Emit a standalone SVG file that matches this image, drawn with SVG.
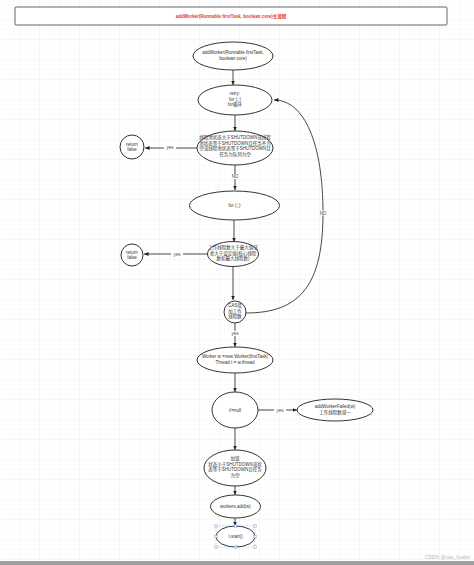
<svg xmlns="http://www.w3.org/2000/svg" width="474" height="565" viewBox="0 0 474 565">
<defs>
<pattern id="g1" width="5" height="5" patternUnits="userSpaceOnUse"><path d="M5 0V5M0 5H5" fill="none" stroke="#f2f2f2" stroke-width="0.5"/></pattern>
<pattern id="g2" width="20" height="20" patternUnits="userSpaceOnUse"><path d="M20 0V20M0 20H20" fill="none" stroke="#e6e6e6" stroke-width="0.5"/></pattern>
<marker id="ah" markerWidth="5" markerHeight="5" refX="4.5" refY="2.5" orient="auto" markerUnits="userSpaceOnUse"><path d="M0,0.5 L4.5,2.5 L0,4.5 Z" fill="#222"/></marker>
<style>
.n{fill:#fff;stroke:#333;stroke-width:1}
.t{font-family:"Liberation Sans","Noto Sans CJK SC",sans-serif;font-size:4.5px;fill:#333;text-anchor:middle}
.c{fill:none;stroke:#333;stroke-width:0.9;marker-end:url(#ah)}
.l{font-family:"Liberation Sans","Noto Sans CJK SC",sans-serif;font-size:4.5px;fill:#444;text-anchor:middle}
.lb{fill:#fff}
.h{fill:#fff;stroke:#7aa7e0;stroke-width:0.6}
</style>
</defs>
<rect width="474" height="565" fill="#fff"/>
<rect width="474" height="561" fill="url(#g1)"/>
<rect width="474" height="561" fill="url(#g2)"/>
<rect x="0" y="561" width="474" height="4" fill="#a0a0a0"/>
<text x="470" y="559" style="font-family:'Liberation Sans','Noto Sans CJK SC',sans-serif;font-size:5px;fill:#b8b8b8;text-anchor:end">CSDN @cao_fuubin</text>

<g id="title">
<rect x="15" y="7" width="432" height="18" rx="1" fill="#fff" stroke="#555" stroke-width="0.9"/>
<text x="231" y="17.5" style="font-family:'Liberation Sans','Noto Sans CJK SC',sans-serif;font-size:4.5px;font-weight:bold;fill:#e53333;text-anchor:middle">addWorker(Runnable firstTask, boolean core)主流程</text>
</g>

<g id="connectors">
<path class="c" d="M233,70 V85"/>
<path class="c" d="M235,115 V131"/>
<path class="c" d="M197,148 H145"/>
<rect class="lb" x="164" y="145" width="12" height="5"/>
<text class="l" x="170" y="149">yes</text>
<path class="c" d="M235,165 V190"/>
<rect class="lb" x="229" y="174" width="12" height="5"/>
<text class="l" x="235" y="178">NO</text>
<path class="c" d="M234,220 V242"/>
<path class="c" d="M208,254 H144"/>
<rect class="lb" x="171" y="251.5" width="12" height="5"/>
<text class="l" x="177" y="255.5">yes</text>
<path class="c" d="M233,266 V300"/>
<path class="c" d="M246,313 C300,313 323,285 323,213 C323,145 305,100 274,100"/>
<rect class="lb" x="317" y="210.5" width="12" height="5"/>
<text class="l" x="323" y="214.5">NO</text>
<path class="c" d="M235,323 V347"/>
<rect class="lb" x="229" y="331" width="12" height="5"/>
<text class="l" x="235" y="335">yes</text>
<path class="c" d="M235,373 V392"/>
<path class="c" d="M258,410 H297"/>
<rect class="lb" x="274" y="407.5" width="12" height="5"/>
<text class="l" x="280" y="411.5">yes</text>
<path class="c" d="M235,428 V450"/>
<path class="c" d="M235,486 V495"/>
<path class="c" d="M235,518 V526"/>
</g>

<g id="n1">
<ellipse class="n" cx="233" cy="56" rx="40" ry="14"/>
<text class="t" x="233" y="54">addWorker(Runnable firstTask,</text>
<text class="t" x="233" y="59.5">boolean core)</text>
</g>

<g id="n2">
<ellipse class="n" cx="235" cy="100" rx="37" ry="15"/>
<text class="t" x="235" y="95">retry:</text>
<text class="t" x="235" y="100.5">for (;;)</text>
<text class="t" x="235" y="106">for循环</text>
</g>

<g id="n3">
<ellipse class="n" cx="235" cy="148" rx="38" ry="17"/>
<text class="t" x="235" y="139">线程池状态大于SHUTDOWN或线程</text>
<text class="t" x="235" y="144.5">池状态等于SHUTDOWN且任务不为</text>
<text class="t" x="235" y="150">空或线程池状态等于SHUTDOWN且</text>
<text class="t" x="235" y="155.5">任务为队列为空</text>
</g>

<g id="rf1">
<circle class="n" cx="132" cy="147" r="12"/>
<text class="t" x="132" y="145.5">return</text>
<text class="t" x="132" y="151">false</text>
</g>

<g id="n4">
<ellipse class="n" cx="234.5" cy="205.5" rx="45" ry="14.5"/>
<text class="t" x="234.5" y="207">for (;;)</text>
</g>

<g id="n5">
<ellipse class="n" cx="233" cy="254" rx="25.5" ry="12.5"/>
<text class="t" x="233" y="249">工作线程数大于最大值或</text>
<text class="t" x="233" y="254.5">者大于设定值(核心线程</text>
<text class="t" x="233" y="260">数和最大线程数)</text>
</g>

<g id="rf2">
<circle class="n" cx="132" cy="255" r="11"/>
<text class="t" x="132" y="253.5">return</text>
<text class="t" x="132" y="259">false</text>
</g>

<g id="n6">
<circle class="n" cx="235" cy="312" r="11"/>
<text class="t" x="235" y="307">CAS增</text>
<text class="t" x="235" y="312.5">加工作</text>
<text class="t" x="235" y="318">线程数</text>
</g>

<g id="n7">
<ellipse class="n" cx="235" cy="360" rx="38" ry="13"/>
<text class="t" x="235" y="358">Worker w =new Worker(firstTask)</text>
<text class="t" x="235" y="363.5">Thread t = w.thread</text>
</g>

<g id="n8">
<ellipse class="n" cx="235" cy="410" rx="23" ry="18"/>
<text class="t" x="235" y="411.5">t!=null</text>
</g>

<g id="n9">
<ellipse class="n" cx="335" cy="410" rx="38" ry="11"/>
<text class="t" x="335" y="408">addWorkerFailed(w)</text>
<text class="t" x="335" y="413.5">工作线程数减一</text>
</g>

<g id="n10">
<ellipse class="n" cx="235" cy="468" rx="31" ry="18"/>
<text class="t" x="235" y="460">加锁</text>
<text class="t" x="235" y="465.5">状态小于SHUTDOWN或状</text>
<text class="t" x="235" y="471">态等于SHUTDOWN且任务</text>
<text class="t" x="235" y="476.5">为空</text>
</g>

<g id="n11">
<ellipse class="n" cx="235.5" cy="506.5" rx="25" ry="11.5"/>
<text class="t" x="235.5" y="508">workers.add(w)</text>
</g>

<g id="n12">
<ellipse class="n" cx="235.5" cy="536.5" rx="19.5" ry="10.5"/>
<text class="t" x="235.5" y="538">t.start()</text>
<rect x="216" y="526" width="39" height="21" fill="none" stroke="#7aa7e0" stroke-width="0.5" stroke-dasharray="1.5,1.5"/>
<rect class="h" x="214.8" y="524.8" width="2.4" height="2.4"/>
<rect class="h" x="234.3" y="524.8" width="2.4" height="2.4"/>
<rect class="h" x="253.8" y="524.8" width="2.4" height="2.4"/>
<rect class="h" x="214.8" y="535.3" width="2.4" height="2.4"/>
<rect class="h" x="253.8" y="535.3" width="2.4" height="2.4"/>
<rect class="h" x="214.8" y="545.8" width="2.4" height="2.4"/>
<rect class="h" x="234.3" y="545.8" width="2.4" height="2.4"/>
<rect class="h" x="253.8" y="545.8" width="2.4" height="2.4"/>
</g>
</svg>
